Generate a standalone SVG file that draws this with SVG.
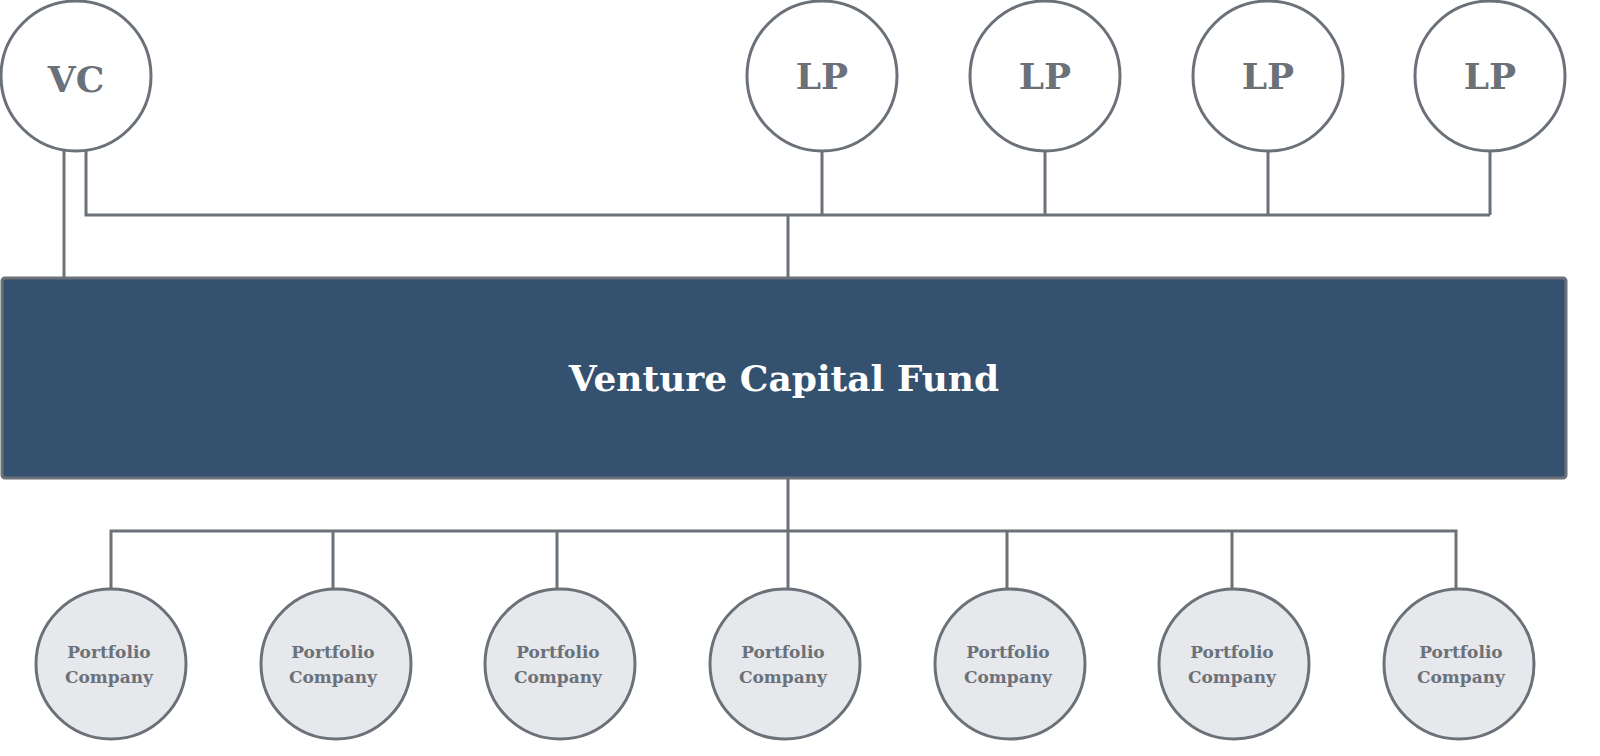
<svg xmlns="http://www.w3.org/2000/svg" width="1600" height="756" viewBox="0 0 1600 756">
<style>
.c{stroke:#6b7179;stroke-width:3}
.top{fill:#fff}
.pc{fill:#e6e8ec}
.l{stroke:#6b7179;stroke-width:3;fill:none}
.t{font-family:"DejaVu Serif","Liberation Serif",serif;font-weight:bold;fill:#6b7179;text-anchor:middle}
.big{font-size:36px}
.sm{font-size:17px}
</style>
<rect width="1600" height="756" fill="#fff"/>
<g id="connectors">
<path class="l" d="M64 150V278M86 150V215H1490M822 150V215M1045 150V215M1268 150V215M1490 150V215M788 215V278"/>
<path class="l" d="M788 478V590M111 590V531H1456V590M333 531V590M557 531V590M1007 531V590M1232 531V590"/>
</g>
<g id="fund"><rect x="2" y="278" width="1564" height="200" rx="3" fill="#34516f" stroke="#6b7179" stroke-width="3"/>
<text x="784" y="391" class="t" style="fill:#fff;font-size:36px">Venture Capital Fund</text></g>
<g id="vc"><circle class="c top" cx="76" cy="76" r="75"/><text x="76" y="92" class="t big">VC</text></g>
<g id="lp1"><circle class="c top" cx="822" cy="76" r="75"/><text x="822" y="89" class="t big">LP</text></g>
<g id="lp2"><circle class="c top" cx="1045" cy="76" r="75"/><text x="1045" y="89" class="t big">LP</text></g>
<g id="lp3"><circle class="c top" cx="1268" cy="76" r="75"/><text x="1268" y="89" class="t big">LP</text></g>
<g id="lp4"><circle class="c top" cx="1490" cy="76" r="75"/><text x="1490" y="89" class="t big">LP</text></g>
<g id="pc1"><circle class="c pc" cx="111" cy="664" r="75"/><text x="109" class="t sm"><tspan x="109" y="658">Portfolio</tspan><tspan x="109" y="683">Company</tspan></text></g>
<g id="pc2"><circle class="c pc" cx="336" cy="664" r="75"/><text class="t sm"><tspan x="333" y="658">Portfolio</tspan><tspan x="333" y="683">Company</tspan></text></g>
<g id="pc3"><circle class="c pc" cx="560" cy="664" r="75"/><text class="t sm"><tspan x="558" y="658">Portfolio</tspan><tspan x="558" y="683">Company</tspan></text></g>
<g id="pc4"><circle class="c pc" cx="785" cy="664" r="75"/><text class="t sm"><tspan x="783" y="658">Portfolio</tspan><tspan x="783" y="683">Company</tspan></text></g>
<g id="pc5"><circle class="c pc" cx="1010" cy="664" r="75"/><text class="t sm"><tspan x="1008" y="658">Portfolio</tspan><tspan x="1008" y="683">Company</tspan></text></g>
<g id="pc6"><circle class="c pc" cx="1234" cy="664" r="75"/><text class="t sm"><tspan x="1232" y="658">Portfolio</tspan><tspan x="1232" y="683">Company</tspan></text></g>
<g id="pc7"><circle class="c pc" cx="1459" cy="664" r="75"/><text class="t sm"><tspan x="1461" y="658">Portfolio</tspan><tspan x="1461" y="683">Company</tspan></text></g>
</svg>
